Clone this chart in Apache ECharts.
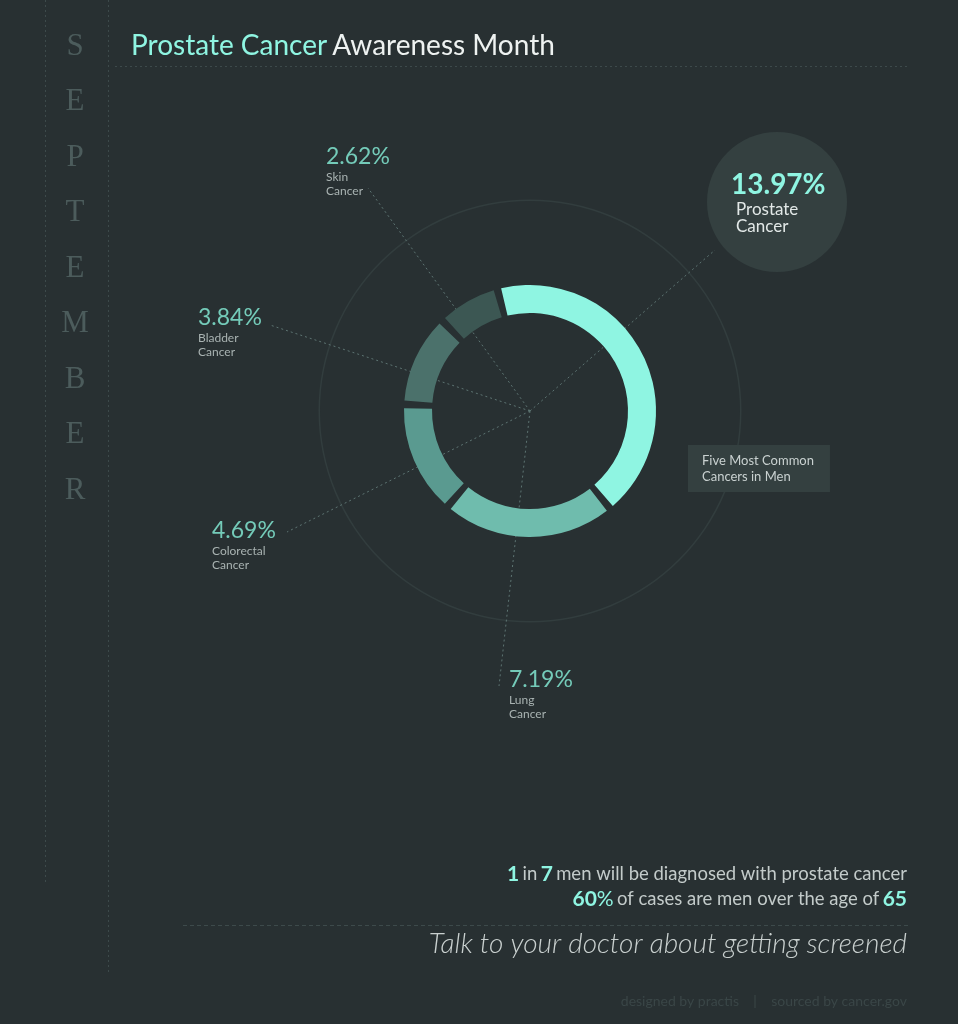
<!DOCTYPE html>
<html>
<head>
<meta charset="utf-8">
<title>Prostate Cancer Awareness Month</title>
<script src="https://cdn.jsdelivr.net/npm/echarts@6/dist/echarts.min.js"></script>
<style>
	html, body { margin: 0; padding: 0; background: #283032; }
	#chart { width: 958px; height: 1024px; }
</style>
</head>
<body>
<div id="chart"></div>
<script>
// five most common cancers in men, share of new cases (%)
var cancerNames = ['Prostate', 'Lung', 'Colorectal', 'Bladder', 'Skin'];
var cancerShares = [13.97, 7.19, 4.69, 3.84, 2.62];
var segmentColors = ['#8ff5e2', '#6fbcad', '#5a9a90', '#4b716b', '#3c5753'];
var monthLetters = ['S', 'E', 'P', 'T', 'E', 'M', 'B', 'E', 'R'];

// where each label sits and where its dashed line stops
var labelAnchors = [
	{ x: 707, y: 132, lx: 715, ly: 250 },
	{ x: 509, y: 666, lx: 499, ly: 686 },
	{ x: 212, y: 517, lx: 287, ly: 532 },
	{ x: 198, y: 304, lx: 270, ly: 325 },
	{ x: 326, y: 143, lx: 368, ly: 188 }
];
var center = [530, 411];
var FONT = 'Lato, "Open Sans", sans-serif';

var chart = echarts.init(document.getElementById('chart'), null, { renderer: 'canvas' });

var ringData = [];
for (var i = 0; i < cancerNames.length; i++) {
	var item = {
		name: cancerNames[i],
		value: cancerShares[i],
		itemStyle: { color: segmentColors[i] }
	};
	if (i === 0) {
		// prostate sits in its own bubble
		item.label = {
			formatter: '{big|{c}%}\n{bname|{b}\nCancer}',
			backgroundColor: '#344040',
			borderRadius: 70,
			width: 116,
			height: 66,
			padding: [37, 0, 37, 24]
		};
	}
	ringData.push(item);
}

var dotted = { stroke: '#3d4a4b', lineWidth: 1, lineDash: [2, 3] };

var option = {
	backgroundColor: '#283032',
	title: [
		{
			text: '{a|Prostate Cancer} {b|Awareness Month}',
			left: 126,
			top: 27,
			textStyle: {
				rich: {
					a: { fontFamily: FONT, fontSize: 28, fontWeight: 'normal', color: '#8ff5e2' },
					b: { fontFamily: FONT, fontSize: 28, fontWeight: 'normal', color: '#eef2f1' }
				}
			}
		},
		{
			text: 'Five Most Common\nCancers in Men',
			left: 688,
			top: 445,
			padding: [8, 16, 7, 14],
			backgroundColor: '#344040',
			textStyle: { fontFamily: FONT, fontSize: 13, lineHeight: 16, fontWeight: 'normal', color: '#c9d1d0' }
		}
	],
	graphic: [
		{ type: 'line', silent: true, shape: { x1: 45.5, y1: 0, x2: 45.5, y2: 885 }, style: dotted },
		{ type: 'line', silent: true, shape: { x1: 108.5, y1: 0, x2: 108.5, y2: 975 }, style: dotted },
		{ type: 'line', silent: true, shape: { x1: 115, y1: 66.5, x2: 910, y2: 66.5 }, style: dotted },
		{ type: 'line', silent: true, shape: { x1: 183, y1: 925.5, x2: 910, y2: 925.5 }, style: { stroke: '#3d4a4b', lineWidth: 1, lineDash: [4, 3] } },
		{
			type: 'text', silent: true, x: 75, y: 19,
			style: {
				text: monthLetters.join('\n'),
				align: 'center', verticalAlign: 'top',
				font: '31px "Liberation Serif", serif',
				lineHeight: 55.5,
				fill: '#4c5c5c'
			}
		},
		{
			type: 'text', silent: true, x: 907, y: 862,
			style: {
				text: '{n|1} {t|in} {n|7} {t|men will be diagnosed with prostate cancer}\n{n|60}{p|%} {t|of cases are men over the age of} {n|65}',
				align: 'right', verticalAlign: 'top',
				rich: {
					n: { fontFamily: FONT, fontSize: 21, fontWeight: 'bold', fill: '#8ff5e2', lineHeight: 25, align: 'right' },
					p: { fontFamily: FONT, fontSize: 21, fill: '#8ff5e2', lineHeight: 25, align: 'right' },
					t: { fontFamily: FONT, fontSize: 18.5, fill: '#c3cbca', lineHeight: 25, align: 'right' }
				}
			}
		},
		{
			type: 'text', silent: true, x: 907, y: 930,
			style: {
				text: 'Talk to your doctor about getting screened',
				align: 'right', verticalAlign: 'top',
				font: 'italic 300 28px ' + FONT,
				fill: '#c9d0cf'
			}
		},
		{
			type: 'text', silent: true, x: 907, y: 994,
			style: {
				text: 'designed by practis    |    sourced by cancer.gov',
				align: 'right', verticalAlign: 'top',
				font: '14px ' + FONT,
				fill: '#3a4647'
			}
		}
	],
	series: [
		{
			// faint outer guide ring
			type: 'pie',
			silent: true,
			center: center,
			radius: [210, 211.5],
			label: { show: false },
			labelLine: { show: false },
			itemStyle: { color: '#323d3e' },
			data: [{ value: 1, name: 'guide' }],
			z: 1
		},
		{
			name: 'Five Most Common Cancers in Men',
			type: 'pie',
			center: center,
			radius: [98, 126],
			startAngle: 105,
			clockwise: true,
			padAngle: 3.5,
			avoidLabelOverlap: false,
			silent: true,
			itemStyle: { borderWidth: 0 },
			label: {
				show: true,
				position: 'outside',
				formatter: '{pct|{c}%}\n{name|{b}\nCancer}',
				rich: {
					pct: { fontFamily: FONT, fontSize: 23, lineHeight: 27, color: '#74cbb9' },
					name: { fontFamily: FONT, fontSize: 12, lineHeight: 14, color: '#a9b3b2' },
					big: { fontFamily: FONT, fontSize: 28, fontWeight: 'bold', lineHeight: 32, color: '#8ff5e2' },
					bname: { fontFamily: FONT, fontSize: 17, lineHeight: 17, color: '#e2e8e7', padding: [0, 0, 0, 5] }
				}
			},
			labelLine: {
				show: true,
				smooth: false,
				lineStyle: { color: '#5d7472', width: 1, type: [2, 3] }
			},
			labelLayout: function(params){
				var a = labelAnchors[params.dataIndex];
				return {
					x: a.x,
					y: a.y,
					align: 'left',
					verticalAlign: 'top',
					hideOverlap: false,
					labelLinePoints: [[center[0], center[1]], [a.lx, a.ly], [a.lx, a.ly]]
				};
			},
			data: ringData,
			z: 3
		}
	]
};
chart.setOption(option);
</script>
</body>
</html>
